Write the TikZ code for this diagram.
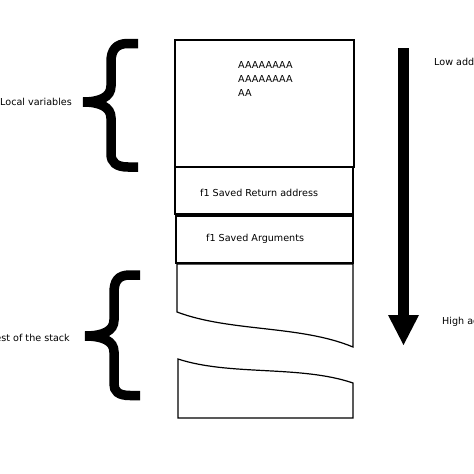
\documentclass[tikz,border=0pt]{standalone}
\usepackage{fontspec}
\setmainfont{DejaVu Sans}
\usepackage{tikz}
\usetikzlibrary{calc}

\begin{document}
\begin{tikzpicture}[x=1pt, y=-1pt,
    txt/.style={inner sep=0pt, font=\fontsize{9.6}{13.7}\selectfont},
    cell/.style={line width=1.2pt},
    curly/.style={line width=9.5pt, line cap=butt}]
    \useasboundingbox (0,0) rectangle (474,474);
    \clip (0,0) rectangle (474,474);

    %STACK
    \draw[cell] (175,40) rectangle (354,167);
    \draw[cell] (175,167) rectangle (353,214);
    \draw[cell] (176,216) rectangle (353,263);

    %SOBEK
    \draw[cell] (177,264) -- (353,264) -- (353,347) .. controls (300,325) and (230,332) .. (177,312) -- cycle;
    \draw[cell] (178,359) .. controls (230,376) and (300,365) .. (353,383) -- (353,418) -- (178,418) -- cycle;

    %TEKS
    \node[txt, anchor=north west, align=left] (buf) at (238,61.5) {AAAAAAAA\\AAAAAAAA\\AA};
    \node[txt, anchor=base west] (ret) at (200,196) {f1 Saved Return address};
    \node[txt, anchor=base west] (args) at (206,241) {f1 Saved Arguments};
    \node[txt, anchor=base west] (locvar) at (0,105.5) {Local variables};
    \node[txt, anchor=base east] (rest) at (70,341) {Rest of the stack};
    \node[txt, anchor=base west] (low) at (434,65) {Low addresses};
    \node[txt, anchor=base west] (high) at (442,324) {High addresses};

    %KURUNG
    \draw[curly] (138,43.5) -- (128,43.5) .. controls (116,43.5) and (111,50) .. (111,62) -- (111,86) .. controls (111,97) and (100,102) .. (83,102);
    \draw[curly] (83,102) .. controls (100,102) and (111,107) .. (111,118) -- (111,154) .. controls (111,162) and (116,167) .. (128,167) -- (138,167);

    \draw[curly] (140,275) -- (130,275) .. controls (118,275) and (114,281) .. (114,293) -- (114,320) .. controls (114,331) and (103,336) .. (85,336);
    \draw[curly] (85,336) .. controls (103,336) and (114,341) .. (114,352) -- (114,384) .. controls (114,391) and (118,395.5) .. (130,395.5) -- (140,395.5);

    %PANAH
    \fill (398,48) rectangle (409,317);
    \fill (388,315) -- (419,315) -- (403.5,345) -- cycle;
\end{tikzpicture}
\end{document}
